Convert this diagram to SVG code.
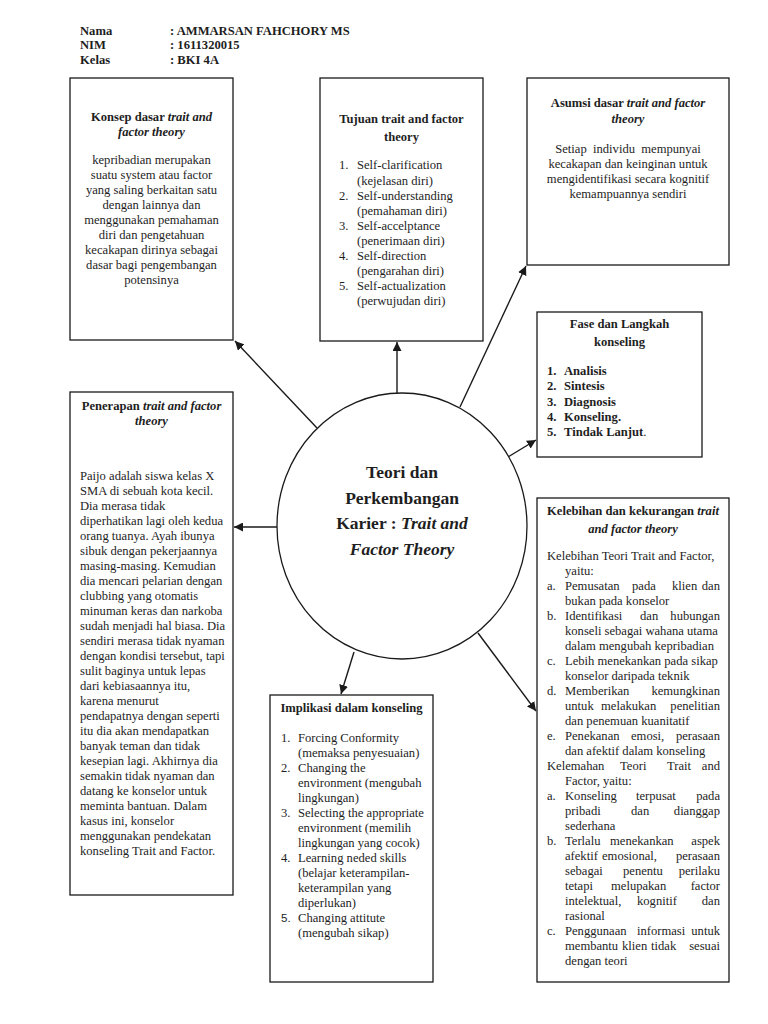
<svg xmlns="http://www.w3.org/2000/svg" width="768" height="1024" viewBox="0 0 768 1024">
<style>
text{font-family:"Liberation Serif","Times New Roman",serif;fill:#1e1e1e;font-size:12.6px}
.b{font-weight:bold}
.i{font-style:italic}
.c{text-anchor:middle}
.e{text-anchor:end}
.box{fill:#fff;stroke:#1a1a1a;stroke-width:1.3}
.conn{stroke:#1a1a1a;stroke-width:1.4;fill:none}
.sans{font-family:"Liberation Sans",Arial,sans-serif}
</style>
<defs>
<marker id="arr" markerUnits="userSpaceOnUse" markerWidth="9" markerHeight="9" viewBox="0 0 10 10" refX="10" refY="5" orient="auto">
<path d="M0,0 L10,5 L0,10 z" fill="#1a1a1a"/>
</marker>
</defs>
<rect width="768" height="1024" fill="#fff"/>

<g id="header" class="b">
<text x="80" y="35" class="b">Nama</text><text x="170" y="35" class="b">: AMMARSAN FAHCHORY MS</text>
<text x="80" y="49" class="b">NIM</text><text x="170" y="49" class="b">: 1611320015</text>
<text x="80" y="64" class="b">Kelas</text><text x="170" y="64" class="b">: BKI 4A</text>
</g>

<g id="connectors">
<line class="conn" x1="317" y1="428" x2="235" y2="341" marker-end="url(#arr)"/>
<line class="conn" x1="397" y1="393" x2="397" y2="342" marker-end="url(#arr)"/>
<line class="conn" x1="460" y1="407" x2="526" y2="266" marker-end="url(#arr)"/>
<line class="conn" x1="508" y1="457" x2="536" y2="440" marker-end="url(#arr)"/>
<line class="conn" x1="277" y1="527" x2="234" y2="527" marker-end="url(#arr)"/>
<line class="conn" x1="354" y1="652" x2="341" y2="694" marker-end="url(#arr)"/>
<line class="conn" x1="478" y1="633" x2="536" y2="711" marker-end="url(#arr)"/>
</g>

<g id="center">
<ellipse cx="402" cy="526" rx="125" ry="133" class="box"/>
<text x="402" y="478" class="b c" style="font-size:17.5px">Teori dan</text>
<text x="402" y="504" class="b c" style="font-size:17.5px">Perkembangan</text>
<text x="402" y="529" class="b c" style="font-size:17.5px">Karier : <tspan class="i">Trait and</tspan></text>
<text x="402" y="555" class="b i c" style="font-size:17.5px">Factor Theory</text>
</g>

<g id="konsep">
<rect x="70" y="78" width="163" height="262" class="box"/>
<text x="151.5" y="121" class="b c">Konsep dasar <tspan class="i">trait and</tspan></text>
<text x="151.5" y="136" class="b i c">factor theory</text>
<text x="151.5" y="164" class="c">kepribadian merupakan</text>
<text x="151.5" y="179" class="c">suatu system atau factor</text>
<text x="151.5" y="194" class="c">yang saling berkaitan satu</text>
<text x="151.5" y="209" class="c">dengan lainnya dan</text>
<text x="151.5" y="224" class="c">menggunakan pemahaman</text>
<text x="151.5" y="239" class="c">diri dan pengetahuan</text>
<text x="151.5" y="254" class="c">kecakapan dirinya sebagai</text>
<text x="151.5" y="269" class="c">dasar bagi pengembangan</text>
<text x="151.5" y="284" class="c">potensinya</text>
</g>

<g id="tujuan">
<rect x="320" y="78" width="163" height="263" class="box"/>
<text x="401.5" y="123" class="b c">Tujuan trait and factor</text>
<text x="401.5" y="141" class="b c">theory</text>
<text x="339" y="169">1.</text><text x="357" y="169">Self-clarification</text>
<text x="357" y="185">(kejelasan diri)</text>
<text x="339" y="200">2.</text><text x="357" y="200">Self-understanding</text>
<text x="357" y="215">(pemahaman diri)</text>
<text x="339" y="230">3.</text><text x="357" y="230">Self-accelptance</text>
<text x="357" y="245">(penerimaan diri)</text>
<text x="339" y="260">4.</text><text x="357" y="260">Self-direction</text>
<text x="357" y="275">(pengarahan diri)</text>
<text x="339" y="290">5.</text><text x="357" y="290">Self-actualization</text>
<text x="357" y="305">(perwujudan diri)</text>
</g>

<g id="asumsi">
<rect x="527" y="78" width="202" height="187" class="box"/>
<text x="628" y="107" class="b c">Asumsi dasar <tspan class="i">trait and factor</tspan></text>
<text x="628" y="123" class="b i c">theory</text>
<text x="628" y="153" class="c" style="white-space:pre">Setiap  individu  mempunyai</text>
<text x="628" y="168" class="c">kecakapan dan keinginan untuk</text>
<text x="628" y="183" class="c">mengidentifikasi secara kognitif</text>
<text x="628" y="198" class="c">kemampuannya sendiri</text>
</g>

<g id="fase">
<rect x="537" y="312" width="165" height="145" class="box"/>
<text x="619.5" y="328" class="b c">Fase dan Langkah</text>
<text x="619.5" y="346" class="b c">konseling</text>
<text x="547" y="375" class="b">1.</text><text x="564" y="375" class="b">Analisis</text>
<text x="547" y="390" class="b">2.</text><text x="564" y="390" class="b">Sintesis</text>
<text x="547" y="406" class="b">3.</text><text x="564" y="406" class="b">Diagnosis</text>
<text x="547" y="421" class="b">4.</text><text x="564" y="421" class="b">Konseling.</text>
<text x="547" y="436" class="b">5.</text><text x="564" y="436"><tspan class="b">Tindak Lanjut</tspan>.</text>
</g>

<g id="penerapan">
<rect x="70" y="392" width="163" height="503" class="box"/>
<text x="151.5" y="410" class="b c">Penerapan <tspan class="i">trait and factor</tspan></text>
<text x="151.5" y="425" class="b i c">theory</text>
<text x="80" y="480">Paijo adalah siswa kelas X</text>
<text x="80" y="495">SMA di sebuah kota kecil.</text>
<text x="80" y="510">Dia merasa tidak</text>
<text x="80" y="525">diperhatikan lagi oleh kedua</text>
<text x="80" y="540">orang tuanya. Ayah ibunya</text>
<text x="80" y="555">sibuk dengan pekerjaannya</text>
<text x="80" y="570">masing-masing. Kemudian</text>
<text x="80" y="585">dia mencari pelarian dengan</text>
<text x="80" y="600">clubbing yang otomatis</text>
<text x="80" y="615">minuman keras dan narkoba</text>
<text x="80" y="630">sudah menjadi hal biasa. Dia</text>
<text x="80" y="645">sendiri merasa tidak nyaman</text>
<text x="80" y="660">dengan kondisi tersebut, tapi</text>
<text x="80" y="675">sulit baginya untuk lepas</text>
<text x="80" y="690">dari kebiasaannya itu,</text>
<text x="80" y="705">karena menurut</text>
<text x="80" y="720">pendapatnya dengan seperti</text>
<text x="80" y="735">itu dia akan mendapatkan</text>
<text x="80" y="750">banyak teman dan tidak</text>
<text x="80" y="765">kesepian lagi. Akhirnya dia</text>
<text x="80" y="780">semakin tidak nyaman dan</text>
<text x="80" y="795">datang ke konselor untuk</text>
<text x="80" y="810">meminta bantuan. Dalam</text>
<text x="80" y="825">kasus ini, konselor</text>
<text x="80" y="840">menggunakan pendekatan</text>
<text x="80" y="855">konseling Trait and Factor.</text>
</g>

<g id="implikasi">
<rect x="270" y="695" width="163" height="287" class="box"/>
<text x="351.5" y="712" class="b c">Implikasi dalam konseling</text>
<text x="281" y="742">1.</text><text x="298" y="742">Forcing Conformity</text>
<text x="298" y="757">(memaksa penyesuaian)</text>
<text x="281" y="772">2.</text><text x="298" y="772">Changing the</text>
<text x="298" y="787">environment (mengubah</text>
<text x="298" y="802">lingkungan)</text>
<text x="281" y="817">3.</text><text x="298" y="817">Selecting the appropriate</text>
<text x="298" y="832">environment (memilih</text>
<text x="298" y="847">lingkungan yang cocok)</text>
<text x="281" y="862">4.</text><text x="298" y="862">Learning neded skills</text>
<text x="298" y="877">(belajar keterampilan-</text>
<text x="298" y="892">keterampilan yang</text>
<text x="298" y="907">diperlukan)</text>
<text x="281" y="922" class="sans" style="font-size:11.5px">5.</text><text x="298" y="922">Changing attitute</text>
<text x="298" y="937">(mengubah sikap)</text>
</g>

<g id="kelebihan">
<rect x="537" y="498" width="192" height="484" class="box"/>
<text x="633" y="515" class="b c">Kelebihan dan kekurangan <tspan class="i">trait</tspan></text>
<text x="633" y="533" class="b i c">and factor theory</text>
<text x="547" y="560">Kelebihan Teori Trait and Factor,</text>
<text x="565" y="575">yaitu:</text>
<text x="547" y="590">a.</text><text x="565" y="590">Pemusatan</text><text x="632" y="590">pada</text><text x="672" y="590">klien</text><text x="720" y="590" class="e">dan</text>
<text x="565" y="605">bukan pada konselor</text>
<text x="547" y="620">b.</text><text x="565" y="620">Identifikasi</text><text x="640" y="620">dan</text><text x="720" y="620" class="e">hubungan</text>
<text x="565" y="635">konseli sebagai wahana utama</text>
<text x="565" y="650">dalam mengubah kepribadian</text>
<text x="547" y="665">c.</text><text x="565" y="665">Lebih menekankan pada sikap</text>
<text x="565" y="680">konselor daripada teknik</text>
<text x="547" y="695">d.</text><text x="565" y="695">Memberikan</text><text x="720" y="695" class="e">kemungkinan</text>
<text x="565" y="710">untuk</text><text x="601" y="710">melakukan</text><text x="720" y="710" class="e">penelitian</text>
<text x="565" y="725">dan penemuan kuanitatif</text>
<text x="547" y="740">e.</text><text x="565" y="740">Penekanan</text><text x="631" y="740">emosi,</text><text x="720" y="740" class="e">perasaan</text>
<text x="565" y="755">dan afektif dalam konseling</text>
<text x="547" y="770">Kelemahan</text><text x="620" y="770">Teori</text><text x="667" y="770">Trait</text><text x="720" y="770" class="e">and</text>
<text x="565" y="785">Factor, yaitu:</text>
<text x="547" y="800">a.</text><text x="565" y="800">Konseling</text><text x="636" y="800">terpusat</text><text x="720" y="800" class="e">pada</text>
<text x="565" y="815">pribadi</text><text x="631" y="815">dan</text><text x="720" y="815" class="e">dianggap</text>
<text x="565" y="830">sederhana</text>
<text x="547" y="845">b.</text><text x="565" y="845">Terlalu</text><text x="610" y="845">menekankan</text><text x="720" y="845" class="e">aspek</text>
<text x="565" y="860">afektif</text><text x="602" y="860">emosional,</text><text x="720" y="860" class="e">perasaan</text>
<text x="565" y="875">sebagai</text><text x="623" y="875">penentu</text><text x="720" y="875" class="e">perilaku</text>
<text x="565" y="890">tetapi</text><text x="611" y="890">melupakan</text><text x="720" y="890" class="e">factor</text>
<text x="565" y="905">intelektual,</text><text x="637" y="905">kognitif</text><text x="720" y="905" class="e">dan</text>
<text x="565" y="920">rasional</text>
<text x="547" y="935">c.</text><text x="565" y="935">Penggunaan</text><text x="637" y="935">informasi</text><text x="720" y="935" class="e">untuk</text>
<text x="565" y="950">membantu</text><text x="622" y="950">klien</text><text x="651" y="950">tidak</text><text x="720" y="950" class="e">sesuai</text>
<text x="565" y="965">dengan teori</text>
</g>
</svg>
